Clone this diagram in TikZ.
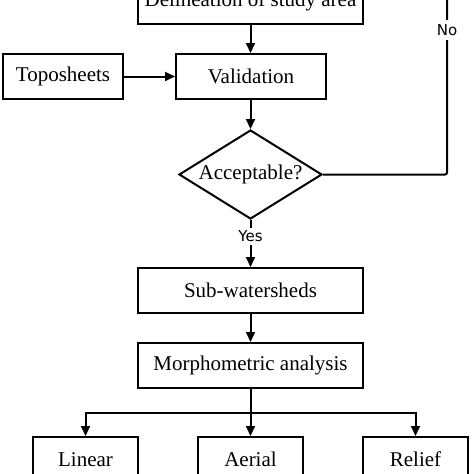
\documentclass[tikz,border=0pt]{standalone}
\usepackage{fontspec}
\setmainfont{Liberation Serif}
\newfontfamily\lblfont{DejaVu Sans}
\usetikzlibrary{arrows.meta,shapes.geometric}
\begin{document}
\begin{tikzpicture}[x=1pt,y=-1pt,
  box/.style={draw,line width=2pt,inner sep=0pt,minimum height=45pt,font=\fontsize{21}{24}\selectfont},
  decbox/.style={draw,shape=diamond,line width=2pt,inner sep=0pt,aspect=1.6,minimum width=143pt,minimum height=89pt,font=\fontsize{21}{24}\selectfont},
  line/.style={line width=2pt},
  arr/.style={line,-{Triangle[length=10pt,width=9pt]}},
  lbl/.style={fill=white,inner sep=3pt,font=\lblfont\fontsize{15}{17}\selectfont}]
\useasboundingbox (0,0) rectangle (474,474);
\clip (0,0) rectangle (474,474);
\fill[white] (0,0) rectangle (474,474);
\node[box,minimum width=225pt] (del) at (250.5,1.5) {Delineation of study area};
\node[box,minimum width=120pt] (topo) at (63,76.5) {Toposheets};
\node[box,minimum width=150pt] (val) at (251,76.5) {Validation};
\node[decbox] (dec) at (250.5,174.5) {Acceptable?};
\node[box,minimum width=225pt] (sub) at (250.5,290.5) {Sub-watersheds};
\node[box,minimum width=225pt] (morph) at (250.5,365.5) {Morphometric analysis};
\node[box,minimum width=105pt] (lin) at (85.5,459.5) {Linear};
\node[box,minimum width=105pt] (aer) at (250.5,459.5) {Aerial};
\node[box,minimum width=105pt] (rel) at (415.5,459.5) {Relief};
\coordinate (bj) at (250.5,413);
\coordinate (noc) at (447,174.5);
\coordinate (notop) at (447,-30);
\draw[arr] (del.south) -- (del.south |- val.north);
\draw[arr] (topo.east) -- (val.west);
\draw[arr] (val.south -| dec.north) -- (dec.north);
\draw[arr] (dec.south) -- node[lbl,pos=0.35] {Yes} (sub.north);
\draw[arr] (sub.south) -- (morph.north);
\draw[arr] (morph.south) -- (aer.north);
\draw[arr] (bj) -| (lin.north);
\draw[arr] (bj) -| (rel.north);
\draw[line,rounded corners=2pt] (dec.east) -- (noc) -- (notop);
\node[lbl,inner sep=4pt] (no) at (447,30) {No};
\end{tikzpicture}
\end{document}
